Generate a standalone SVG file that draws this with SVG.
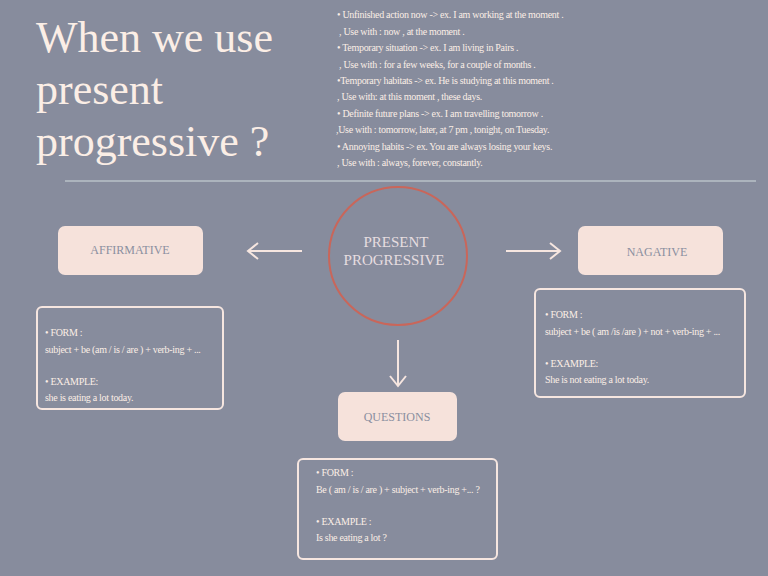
<svg xmlns="http://www.w3.org/2000/svg" width="768" height="576" viewBox="0 0 768 576">
<style>
text{font-family:'Liberation Serif','Times New Roman','DejaVu Serif',serif;fill:#fbeee6}
.s{font-size:10px;letter-spacing:-0.3px}
.lbl{font-size:12px;fill:#8a8fa0;text-anchor:middle}
.pill{fill:#f6e2db}
.box{fill:none;stroke:#f6e6e0;stroke-width:2}
.con{stroke:#f6e6e0;stroke-width:2;fill:none}
</style>
<rect width="768" height="576" fill="#878c9d"/>
<g id="title">
<text x="36" y="52" style="font-size:44px">When we use</text>
<text x="36" y="104" style="font-size:44px">present</text>
<text x="36" y="156" style="font-size:44px">progressive ?</text>
</g>
<g id="uses">
<text class="s" x="337" y="18">• Unfinished action now -&gt; ex. I am working at the moment .</text>
<text class="s" x="339" y="35">, Use with : now , at the moment .</text>
<text class="s" x="337" y="51">• Temporary situation  -&gt; ex. I am  living in Pairs .</text>
<text class="s" x="339" y="68">, Use with :  for a few weeks, for a couple of months .</text>
<text class="s" x="337" y="84">•Temporary habitats -&gt; ex.  He is studying at this moment .</text>
<text class="s" x="337" y="100">, Use with: at this moment , these days.</text>
<text class="s" x="337" y="117">• Definite future plans -&gt; ex. I am travelling tomorrow .</text>
<text class="s" x="336" y="133">,Use with : tomorrow, later, at 7 pm , tonight, on Tuesday.</text>
<text class="s" x="337" y="150">•  Annoying habits -&gt; ex. You are always losing your keys.</text>
<text class="s" x="337" y="166">, Use with  : always, forever, constantly.</text>
</g>
<line x1="65" y1="181" x2="756" y2="181" stroke="#b9c2c8" stroke-width="1.5"/>
<g id="connectors">
<path class="con" d="M302 251H248M258 243L248 251L258 259"/>
<path class="con" d="M506 251H560M550 243L560 251L550 259"/>
<path class="con" d="M398 340V386M390 376L398 386L406 376"/>
</g>
<g id="center">
<circle cx="398" cy="256" r="69" fill="none" stroke="#c9665a" stroke-width="2"/>
<text x="396" y="247" style="font-size:15px;text-anchor:middle;fill:#e6dde0">PRESENT</text>
<text x="394" y="265" style="font-size:15px;text-anchor:middle;fill:#e6dde0">PROGRESSIVE</text>
</g>
<g id="affirmative">
<rect class="pill" x="58" y="226" width="145" height="49" rx="7"/>
<text class="lbl" x="130" y="254">AFFIRMATIVE</text>
</g>
<g id="negative">
<rect class="pill" x="578" y="226" width="145" height="49" rx="7"/>
<text class="lbl" x="657" y="256">NAGATIVE</text>
</g>
<g id="questions">
<rect class="pill" x="338" y="392" width="119" height="49" rx="7"/>
<text class="lbl" x="397" y="421">QUESTIONS</text>
</g>
<g id="aff-box">
<rect class="box" x="37" y="307" width="186" height="102" rx="5"/>
<text class="s" x="45" y="336">• FORM :</text>
<text class="s" x="45" y="353">subject + be (am  / is / are  ) + verb-ing + ...</text>
<text class="s" x="45" y="385">• EXAMPLE:</text>
<text class="s" x="45" y="401">she is eating a lot today.</text>
</g>
<g id="neg-box">
<rect class="box" x="535" y="289" width="210" height="108" rx="5"/>
<text class="s" x="545" y="318">• FORM :</text>
<text class="s" x="545" y="335">subject + be ( am  /is /are  ) + not + verb-ing + ...</text>
<text class="s" x="545" y="367">• EXAMPLE:</text>
<text class="s" x="545" y="383">She is not eating a lot today.</text>
</g>
<g id="q-box">
<rect class="box" x="298" y="459" width="199" height="100" rx="5"/>
<text class="s" x="316" y="476">• FORM :</text>
<text class="s" x="316" y="493">Be ( am  / is / are  ) + subject + verb-ing +... ?</text>
<text class="s" x="316" y="525">• EXAMPLE :</text>
<text class="s" x="316" y="541">Is she eating a lot ?</text>
</g>
</svg>
